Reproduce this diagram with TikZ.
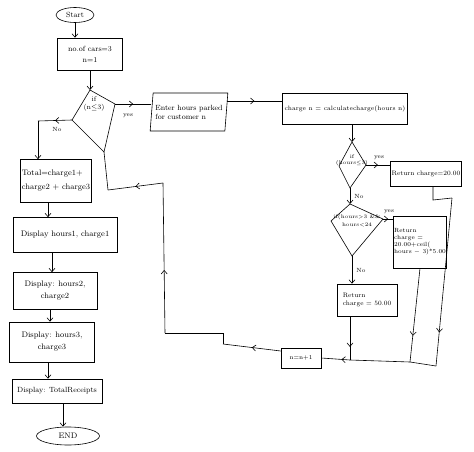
\documentclass[tikz,border=0pt]{standalone}
\usetikzlibrary{arrows.meta,shapes.geometric,decorations.markings,calc}
\begin{document}
\begin{tikzpicture}[x=1pt,y=-1pt,
  line width=0.6pt,
  every node/.style={font=\fontsize{7.5}{9}\selectfont},
  box/.style={draw, rectangle, inner sep=1.5pt},
  oval/.style={draw, ellipse, inner sep=0pt},
  tip/.style={-{Straight Barb[length=3.5pt,width=6pt]}},
  midarrow/.style={postaction={decorate},decoration={markings,mark=at position #1 with {\arrow{Straight Barb[length=3.5pt,width=6pt]}}}},
  midarrow/.default=0.5,
  lbl/.style={font=\fontsize{6}{7}\selectfont, inner sep=0.5pt},
  tiny/.style={font=\fontsize{5.3}{6.3}\selectfont, inner sep=0.5pt}
]
\fill[white] (0,0) rectangle (474,452);
\useasboundingbox (0,0) rectangle (474,452);

% ---- nodes ----
\node[oval, minimum width=38pt, minimum height=15pt] (start) at (75,15) {Start};
\node[box, minimum width=65pt, minimum height=32pt, align=center] (init) at (90,54) {no.of cars=3\\[2pt]n=1};

\coordinate (d1t) at (90,90);
\coordinate (d1r) at (115,104);
\coordinate (d1b) at (104,152);
\coordinate (d1l) at (72,120);
\draw (d1t) -- (d1r) -- (d1b) -- (d1l) -- cycle;
\node[align=center, inner sep=0pt, font=\fontsize{7}{8}\selectfont] (d1txt) at (94,104) {if\\(n$\le$3)};

\node[draw, trapezium, trapezium left angle=80, trapezium right angle=100, trapezium stretches=true,
      minimum width=78pt, minimum height=38pt, align=left, inner sep=1pt] (enter) at (189,112)
      {Enter hours parked\\for customer n};

\node[box, minimum width=125pt, minimum height=31pt, font=\fontsize{6.2}{7}\selectfont] (charge) at (345,109)
      {charge n = calculatecharge(hours n)};

\coordinate (d2t) at (352,142);
\coordinate (d2r) at (366,165);
\coordinate (d2b) at (350,188);
\coordinate (d2l) at (339,166);
\draw (d2t) -- (d2r) -- (d2b) -- (d2l) -- cycle;
\node[tiny, align=center] (d2txt) at (352,160) {if\\(hours$\le$3)};

\node[box, minimum width=67pt, minimum height=25pt, font=\fontsize{6.5}{7.5}\selectfont] (ret20) at (426,174) {Return charge=20.00};

\coordinate (d3t) at (350,204);
\coordinate (d3r) at (383,219);
\coordinate (d3b) at (352,256);
\coordinate (d3l) at (331,221);
\draw (d3t) -- (d3r) -- (d3b) -- (d3l) -- cycle;
\node[tiny, align=center] (d3txt) at (357,221) {if(hours$>$3 \&\&\\[2pt]hours$<$24};

\node[box, lbl, minimum width=50pt, minimum height=52pt, align=left] (ret2) at (420,242)
      {Return\\charge =\\20.00+ceil(\\hours $-$ 3)*5.00};

\node[box, minimum width=60pt, minimum height=32pt, align=left, font=\fontsize{6.5}{8}\selectfont] (ret50) at (367,300)
      {Return\\charge = 50.00};

\node[box, lbl, minimum width=40pt, minimum height=20pt] (nplus) at (301,358) {n=n+1};

\node[box, minimum width=71pt, minimum height=43pt, align=left, font=\fontsize{8}{9}\selectfont] (total) at (56,181)
      {Total=charge1+\\[5pt]charge2 + charge3};
\node[box, minimum width=104pt, minimum height=35pt, font=\fontsize{8}{9}\selectfont] (disp1) at (65,235) {Display hours1, charge1};
\node[box, minimum width=84pt, minimum height=37pt, align=center, font=\fontsize{8}{9}\selectfont] (disp2) at (55,291) {Display: hours2,\\[3pt]charge2};
\node[box, minimum width=85pt, minimum height=40pt, align=center, font=\fontsize{8}{9}\selectfont] (disp3) at (52,342) {Display: hours3,\\[3pt]charge3};
\node[box, minimum width=90pt, minimum height=24pt] (disp4) at (57,391) {Display: TotalReceipts};
\node[oval, minimum width=63pt, minimum height=18pt, font=\fontsize{8}{9}\selectfont] (endn) at (68,436) {END};

% ---- connectors ----
\draw[tip] (start.south) -- (start.south |- init.north);
\draw[tip] (d1t |- init.south) -- (d1t);
\draw[midarrow] (d1r) -- (d1r -| enter.west);
\node[lbl] at (128,116) {yes};

\coordinate (cin) at ([yshift=8pt]charge.west);
\draw[midarrow] (cin -| enter.east) -- (cin);

\draw[tip] (d2t |- charge.south) -- (d2t);
\draw[midarrow] (d2r) -- (d2r -| ret20.west);
\node[lbl] at (379,158) {yes};
\draw[tip] (d2b) -- (d3t);
\node[lbl] at (359,196) {No};
\draw[midarrow] (d3r) -- (d3r -| ret2.west);
\node[lbl] at (389,212) {yes};
\draw[tip] (d3b) -- (d3b |- ret50.north);
\node[lbl] at (361,270) {No};

\coordinate (r1) at (433,200);
\coordinate (r2) at (452,198);
\coordinate (r3) at (436,366);
\coordinate (r4) at (410,362);
\coordinate (j) at (350,360);
\draw (ret20.south -| r1) -- (r1) -- (r2);
\draw[midarrow=0.8] (r2) -- (r3);
\draw (r3) -- (r4);
\draw[midarrow=0.72] (ret2.south) -- (r4);
\draw (r4) -- (j);
\draw[midarrow=0.7] (ret50.south -| j) -- (j);
\draw[midarrow=0.3] (j) -- (nplus.east);

\coordinate (nw) at ([yshift=7pt]nplus.west);
\coordinate (l1) at (223,344);
\coordinate (l2) at (223,333);
\coordinate (l3) at (165,333);
\coordinate (l4) at (163,183);
\coordinate (l5) at (108,190);
\draw[midarrow] (nw) -- (l1);
\draw (l1) -- (l2) -- (l3);
\draw[midarrow=0.42] (l3) -- (l4);
\draw[midarrow] (l4) -- (l5);
\draw (l5) -- (d1b);

\coordinate (n1) at (38,121);
\draw[midarrow] (d1l) -- (n1);
\node[lbl] at (57,129) {No};
\draw[tip] (n1) -- (n1 |- total.north);

\draw[tip] ([xshift=-8pt]total.south) -- ([xshift=-8pt]total.south |- disp1.north);
\draw[tip] ([xshift=-13pt]disp1.south) -- ([xshift=-13pt]disp1.south |- disp2.north);
\draw[tip] ([xshift=-5pt]disp2.south) -- ([xshift=-5pt]disp2.south |- disp3.north);
\draw[tip] ([xshift=-4pt]disp3.south) -- ([xshift=-4pt]disp3.south |- disp4.north);
\draw[tip] ([xshift=6pt]disp4.south) -- ([xshift=6pt]disp4.south |- endn.north);
\end{tikzpicture}
\end{document}
